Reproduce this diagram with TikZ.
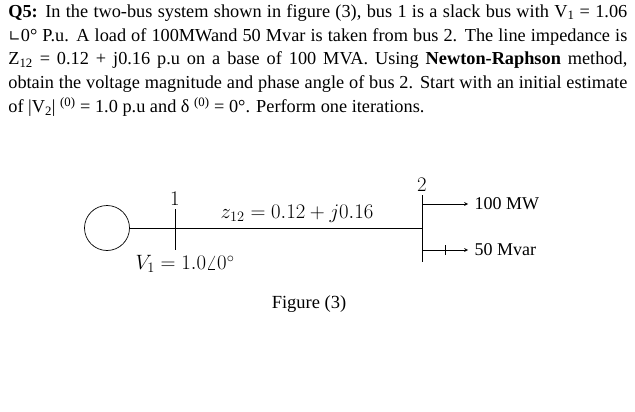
\documentclass[tikz,border=0pt]{standalone}
\usepackage{amsmath}
\usepackage{fontspec}
\setmainfont{Liberation Serif}
\newfontfamily\djvfont{DejaVu Serif}
\begin{document}
\begin{tikzpicture}[x=1pt,y=-1pt,line width=0.7pt,
  lm/.style={font=\fontsize{19.8}{22}\selectfont\rmfamily},
  tx/.style={font=\fontsize{18.3}{23.8}\selectfont}]
\useasboundingbox (0,0) rectangle (635,412);
\node[tx,anchor=north west,text width=619pt,align=justify,inner sep=0pt] (q) at (8,4)
{\textbf{Q5:} In the two-bus system shown in figure (3), bus 1 is a slack bus with V\textsubscript{1} = 1.06\linebreak
{\djvfont\fontsize{15}{24}\selectfont ∟}0° P.u. A load of 100MWand 50 Mvar is taken from bus 2. The line impedance is\linebreak
Z\textsubscript{12} = 0.12 + j0.16 p.u on a base of 100 MVA. Using \textbf{Newton-Raphson} method,\linebreak
obtain the voltage magnitude and phase angle of bus 2. Start with an initial estimate\linebreak
of |V\textsubscript{2}| \textsuperscript{(0)} = 1.0 p.u and δ \textsuperscript{(0)} = 0°. Perform one iterations.};
\node[draw,circle,minimum size=45pt,inner sep=0pt] (g) at (107,228) {};
\coordinate (b1t) at (175,209); \coordinate (b1b) at (175,250);
\coordinate (b2t) at (422,195); \coordinate (b2b) at (422,262);
\coordinate (b2) at (422,228);
\coordinate (p0) at (422,204); \coordinate (q0) at (422,250);
\coordinate (p1) at (468,204); \coordinate (q1) at (468,250);
\draw (b1t) -- (b1b);
\draw (b2t) -- (b2b);
\draw (g.east) -- (b2);
\draw[->,>=stealth] (p0) -- (p1);
\draw[->,>=stealth] (q0) -- (q1);
\draw (445,245) -- (445,255);
\node[lm,anchor=south,inner sep=1pt] (n1) at (175,207) {$1$};
\node[lm,anchor=south,inner sep=1pt] (n2) at (422,193) {$2$};
\node[lm] (z) at (297,214) {$z_{12}=0.12+j0.16$};
\node[lm] (v) at (185,264) {$V_1=1.0\angle 0^\circ$};
\node[anchor=west,font=\fontsize{18}{20}\selectfont] (mw) at (471,204) {100 MW};
\node[anchor=west,font=\fontsize{18}{20}\selectfont] (mv) at (471,250) {50 Mvar};
\node[font=\fontsize{18.5}{20}\selectfont] (f) at (309,304) {Figure (3)};
\end{tikzpicture}
\end{document}
